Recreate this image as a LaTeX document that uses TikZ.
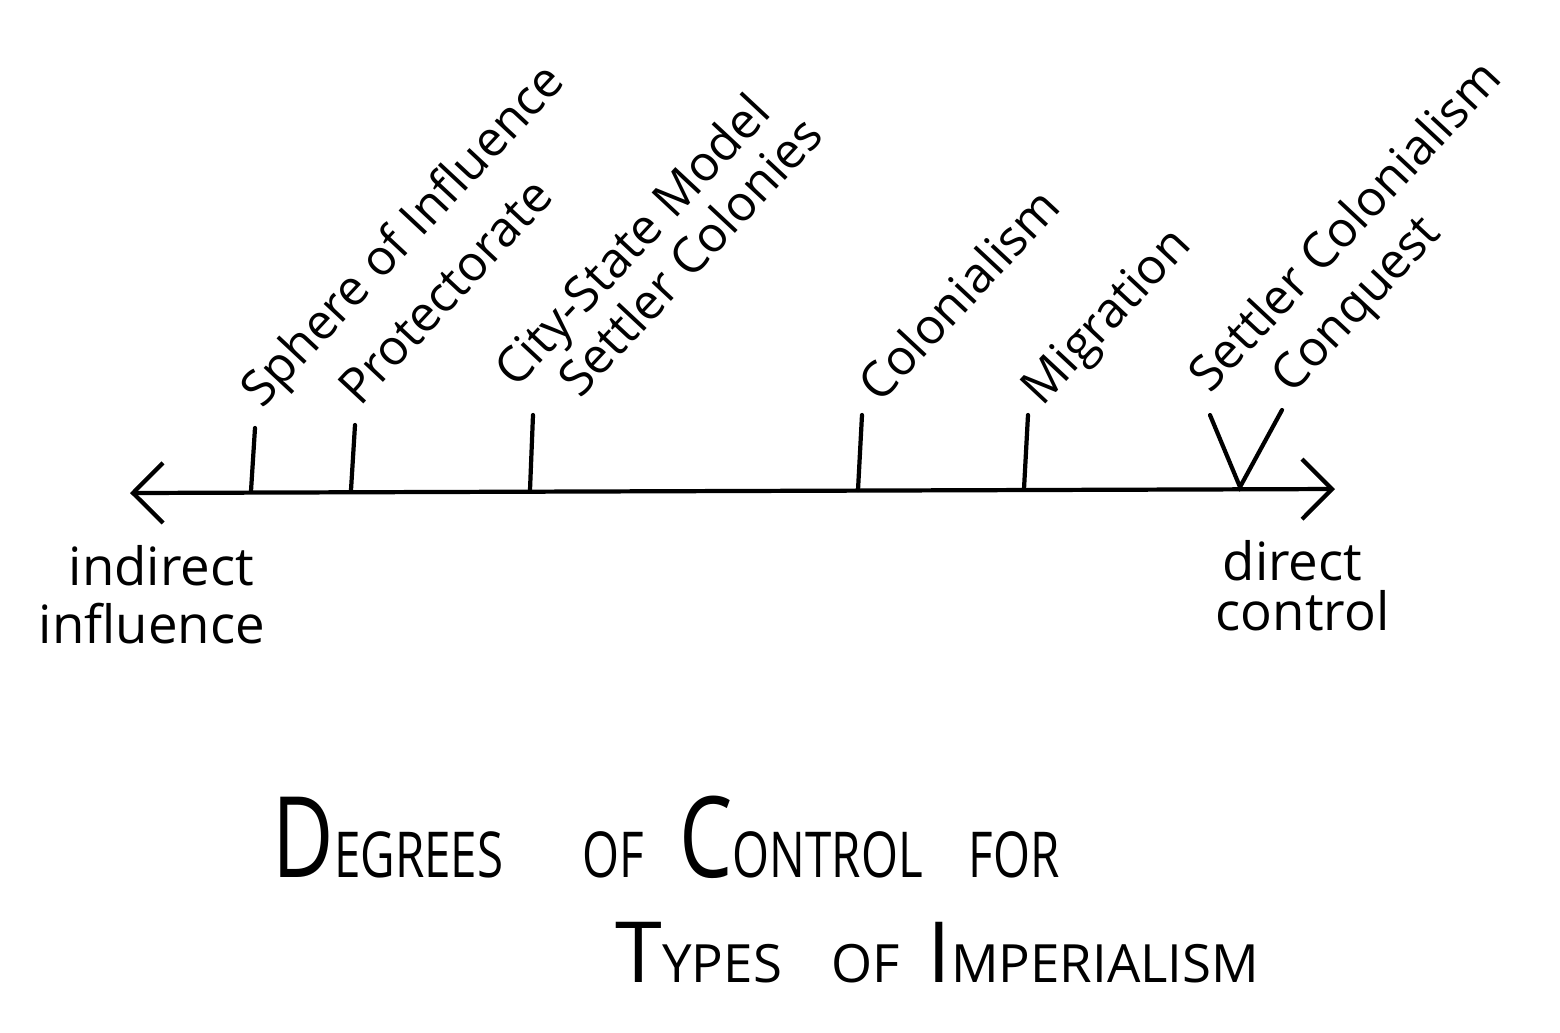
\documentclass[tikz,border=0pt]{standalone}
\usepackage{fontspec}
\usepackage{graphicx}
\setmainfont{Open Sans}
\usetikzlibrary{arrows.meta}
\tikzstyle{kind} = [rotate=47, anchor=base west, inner sep=0pt, font=\fontsize{14}{16}\selectfont]
\tikzstyle{pole} = [anchor=base west, inner sep=0pt, font=\fontsize{15}{18}\selectfont]
\tikzstyle{tick} = [line width=1.2pt, line cap=round]
\tikzstyle{head} = [anchor=base west, inner sep=0pt]
\newcommand{\bigsc}[4]{{\fontsize{#3}{#3}\selectfont #1}{\fontsize{#4}{#4}\selectfont #2}}

\begin{document}
\begin{tikzpicture}[x=0.01cm,y=-0.01cm]
\useasboundingbox (0,0) rectangle (1560,1032);
% the axis
\draw[tick, {Straight Barb[length=3mm,width=6mm]}-{Straight Barb[length=3mm,width=6mm]}] (130,493) -- (1335,489);
\draw[tick] (255,428) -- (251,491);
\draw[tick] (355,425) -- (351,490);
\draw[tick] (533,415) -- (530,490);
\draw[tick] (862,415) -- (858,490);
\draw[tick] (1028,415) -- (1024,489);
\draw[tick] (1210,415) -- (1240,487) -- (1282,410);
% types
\node[kind] (sphere) at (262,410) {Sphere of Influence};
\node[kind] (protect) at (360,408) {Protectorate};
\node[kind] (city) at (516,390) {City-State Model};
\node[kind] (settlers) at (580,400) {Settler Colonies};
\node[kind] (colonial) at (880,405) {Colonialism};
\node[kind] (migrate) at (1042,408) {Migration};
\node[kind] (settcol) at (1210,395) {Settler Colonialism};
\node[kind] (conquest) at (1292,396) {Conquest};
% ends
\node[pole] (indirect) at (68,585) {indirect};
\node[pole] (influence) at (38,643) {influence};
\node[pole] (direct) at (1222,580) {direct};
\node[pole] (control) at (1215,630) {control};
% title
\node[head] (title1) at (272,877) {\scalebox{0.75}[1]{\bigsc{D}{EGREES}{32}{18}\hspace{30pt}\bigsc{}{OF}{32}{18}\hspace{13.5pt}\bigsc{C}{ONTROL}{32}{18}\hspace{17.5pt}\bigsc{}{FOR}{32}{18}}};
\node[head] (title2) at (615,982) {\bigsc{T}{YPES}{24}{15}\hspace{14pt}\bigsc{}{OF}{24}{15}\hspace{8pt}\bigsc{I}{MPERIALISM}{24}{15}};
\end{tikzpicture}
\end{document}
